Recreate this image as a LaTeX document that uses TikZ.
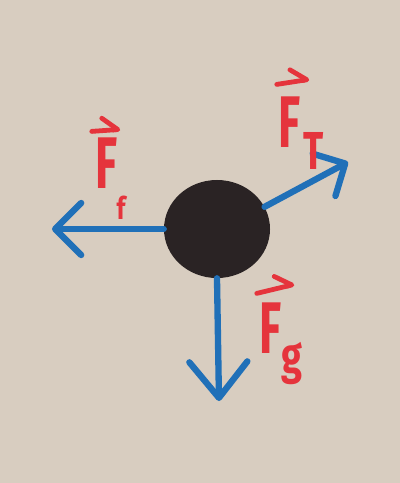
\documentclass[tikz,border=0pt]{standalone}
\usepackage{fontspec}
\setmainfont{Fira Sans}
\usetikzlibrary{arrows.meta,shapes.geometric}
\definecolor{paper}{HTML}{D8CDC0}
\definecolor{pen}{HTML}{E5343C}
\definecolor{force}{HTML}{2070B8}
\definecolor{ballc}{HTML}{2A2324}
\tikzset{
  forcearrow/.style={draw=force, line width=4.5pt, line cap=round, line join=round},
  lab/.style={text=pen, font=\bfseries\fontsize{52}{56}\selectfont, xscale=0.62, inner sep=0pt},
  subf/.style={text=pen, font=\bfseries\fontsize{22}{24}\selectfont, xscale=0.8, inner sep=0pt},
  subT/.style={text=pen, font=\bfseries\fontsize{38}{40}\selectfont, xscale=0.7, inner sep=0pt},
  subg/.style={text=pen, font=\bfseries\fontsize{36}{38}\selectfont, xscale=0.75, inner sep=0pt},
  vecarrow/.style={draw=pen, line width=3.4pt, line cap=round, line join=round,
    -{Straight Barb[harpoon, length=0.38cm, width=0.62cm, line width=3.4pt, round]}},
}
\begin{document}
\begin{tikzpicture}[x=0.025cm, y=-0.025cm]
\fill[paper] (0,0) rectangle (400,483);
\useasboundingbox (0,0) rectangle (400,483);
\node[ellipse, fill=ballc, minimum width=2.65cm, minimum height=2.45cm, inner sep=0pt] (ball) at (217,229) {};
\coordinate (tipf) at (52,229);
\coordinate (tipT) at (348,162);
\coordinate (tipg) at (219,401);
\draw[forcearrow, -{Straight Barb[length=0.65cm, width=1.3cm, line width=4.5pt, round]}] (ball.west) -- (tipf);
\draw[forcearrow, -{Straight Barb[length=0.6cm, width=1.2cm, line width=4.5pt, round]}] (ball.25) -- (tipT);
\draw[forcearrow, -{Straight Barb[length=0.9cm, width=1.45cm, line width=4.5pt, round]}] (ball.south) -- (tipg);
% F_f
\node[lab] (Ff) at (107,163) {F};
\node[subf] (sf) at (121,208) {f};
\draw[vecarrow] ([shift={(-4,-6)}]Ff.north west) -- ([shift={(2,-8)}]Ff.north east);
% F_T
\node[lab] (FT) at (290,122) {F};
\node[subT] (sT) at (314,151) {T};
\draw[vecarrow] ([shift={(-2,-12)}]FT.north west) -- ([shift={(8,-17)}]FT.north east);
% F_g
\node[lab] (Fg) at (271,328) {F};
\node[subg] (sg) at (292,363) {g};
\draw[vecarrow] ([shift={(-3,-9)}]Fg.north west) -- ([shift={(12,-18)}]Fg.north east);
\end{tikzpicture}
\end{document}
